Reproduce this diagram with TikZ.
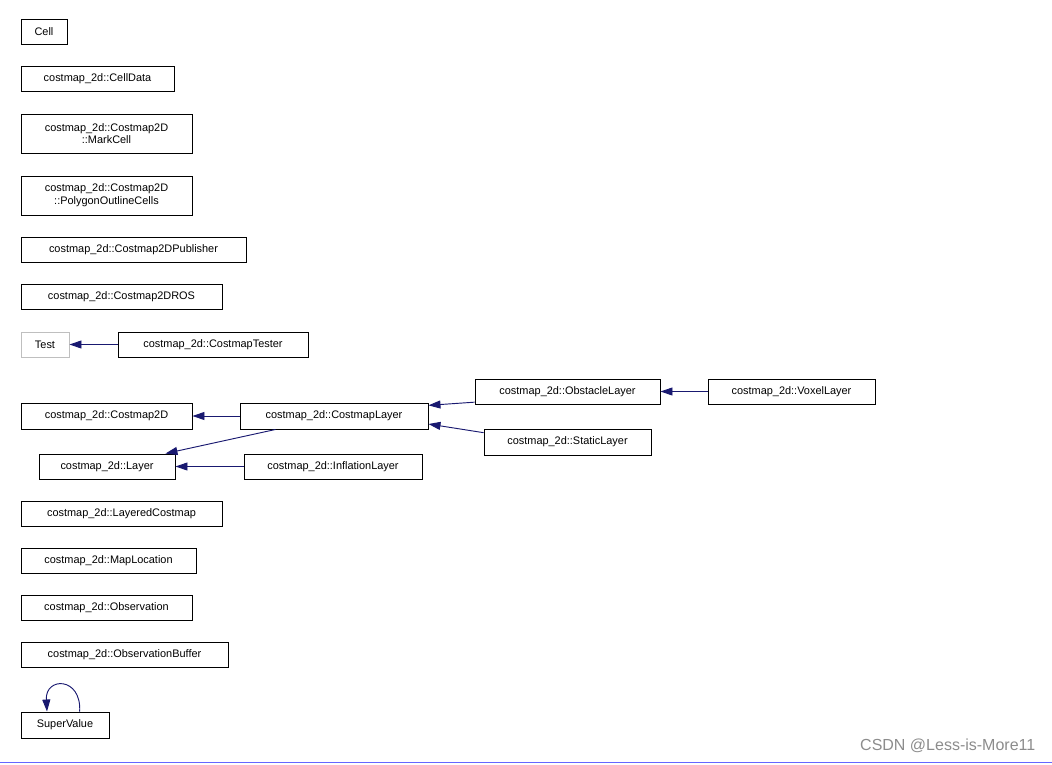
\documentclass[tikz,border=0pt]{standalone}
\usepackage{fontspec}
\setmainfont{Liberation Sans}
\usetikzlibrary{arrows.meta}
\definecolor{navy}{RGB}{25,25,112}
\tikzset{box/.style={draw=black,fill=white,inner sep=0pt,align=center,font=\fontsize{8.2}{9.5}\selectfont,line width=0.7pt},
edge/.style={draw=navy,line width=0.7pt,-{Triangle[width=6pt,length=9pt]}}}
\newcommand\bx[7][]{\node[box,#1,minimum width={(#5-#3)*0.75pt},minimum height={(#6-#4)*0.75pt}] (#2) at ({(#3+#5)/2},{(#4+#6)/2}) {#7};}
\begin{document}
\begin{tikzpicture}[x=0.75pt,y=-0.75pt]
\useasboundingbox (0,0) rectangle (1052,764);
\bx{cell}{21}{19}{67}{44}{Cell}
\bx{celldata}{21}{66}{174}{91}{costmap\_2d::CellData}
\bx{markcell}{21}{114}{192}{153}{costmap\_2d::Costmap2D\\::MarkCell}
\bx{poly}{21}{176}{192}{215}{costmap\_2d::Costmap2D\\::PolygonOutlineCells}
\bx{pub}{21}{237}{246}{262}{costmap\_2d::Costmap2DPublisher}
\bx{ros}{21}{284}{222}{309}{costmap\_2d::Costmap2DROS}
\bx[draw=black!25]{test}{21}{332}{69}{357}{Test}
\bx{tester}{118}{332}{308}{357}{costmap\_2d::CostmapTester}
\bx{cm2d}{21}{403}{192}{429}{costmap\_2d::Costmap2D}
\bx{cml}{240}{403}{428}{429}{costmap\_2d::CostmapLayer}
\bx{obst}{475}{379}{660}{404}{costmap\_2d::ObstacleLayer}
\bx{voxel}{708}{379}{875}{404}{costmap\_2d::VoxelLayer}
\bx{static}{484}{429}{651}{455}{costmap\_2d::StaticLayer}
\bx{layer}{39}{454}{175}{479}{costmap\_2d::Layer}
\bx{infl}{244}{454}{422}{479}{costmap\_2d::InflationLayer}
\bx{lcm}{21}{501}{222}{526}{costmap\_2d::LayeredCostmap}
\bx{maploc}{21}{548}{196}{573}{costmap\_2d::MapLocation}
\bx{obs}{21}{595}{192}{620}{costmap\_2d::Observation}
\bx{obsbuf}{21}{642}{228}{667}{costmap\_2d::ObservationBuffer}
\bx{sv}{21}{712}{109}{738}{SuperValue}
\draw[edge] (tester) -- (test);
\draw[edge] (cml) -- (cm2d);
\draw[edge] (voxel) -- (obst);
\draw[edge] ([yshift=-8pt]obst.west) -- ([yshift=8pt]cml.east);
\draw[edge] ([yshift=7pt]static.west) -- ([yshift=-6pt]cml.east);
\draw[edge] ([xshift=27pt]cml.south west) -- ([xshift=-7.5pt]layer.north east);
\draw[edge] (infl) -- (layer);
\draw[edge] ([xshift=11pt]sv.north) .. controls +(2,-35) and +(-2,-35) .. ([xshift=-13.5pt]sv.north);
\node[text=black!45,font=\fontsize{12}{14}\selectfont,anchor=east] (wm) at (1040,746) {CSDN @Less-is-More11};
\draw[color=blue!60,line width=0.8pt] (0,762.5) -- (1052,762.5);
\end{tikzpicture}
\end{document}
